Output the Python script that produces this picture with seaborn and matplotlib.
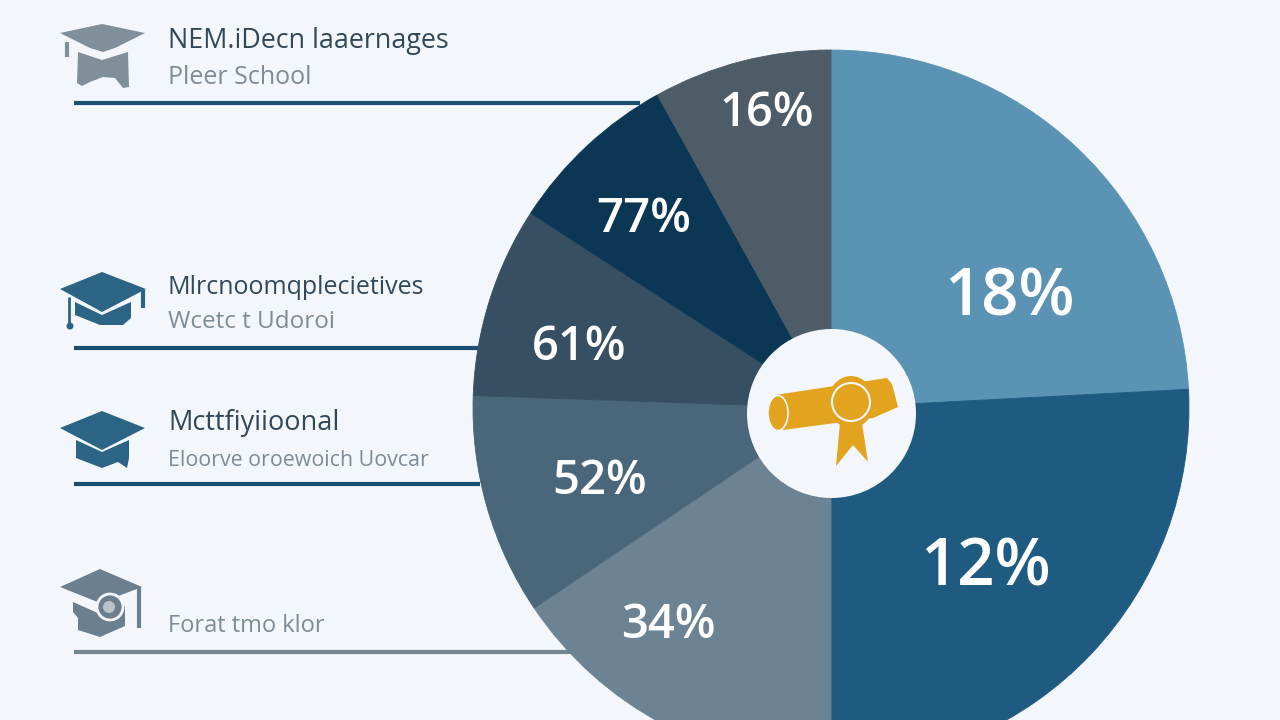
import matplotlib.pyplot as plt
import matplotlib.patches as mpatches
import seaborn as sns

# values as printed on the slices
pct_labels = ['18%', '12%', '34%', '52%', '61%', '77%', '16%']
# slice sizes (degrees, clockwise from the top)
slice_sizes = [87, 93, 56, 36, 31, 28, 29]
slice_colors = ['#5B93B5', '#1F5B80', '#6C8394', '#4A667B', '#374F62', '#0B3654', '#4E5C68']

row_titles = ['NEM.iDecn laaernages', 'Mlrcnoomqplecietives', 'Mcttfiyiioonal', '']
row_subtitles = ['Pleer School', 'Wcetc t Udoroi', 'Eloorve oroewoich Uovcar', 'Forat tmo klor']

BG = '#F3F7FB'
BLUE = '#2B6485'
GREY = '#7A8C99'
GOLD = '#E2A41F'

sns.set_theme(style='white')
plt.rcParams['font.family'] = ['Open Sans', 'DejaVu Sans']


def py(y):
    # picture pixels count from the top
    return 720 - y


def poly(ax, pts, color, z=5):
    ax.add_patch(mpatches.Polygon([(x, py(y)) for x, y in pts], closed=True, fc=color, ec='none', zorder=z))


def stroke(ax, xs, ys, color, lw=1.5, z=5):
    ax.plot(xs, [py(y) for y in ys], color=color, lw=lw, solid_capstyle='butt', zorder=z)


def icon_one(ax):
    poly(ax, [(60, 33), (102, 24), (145, 33), (115, 48), (103, 52), (90, 48)], '#818F9A')
    poly(ax, [(78, 52), (102, 60), (128, 52), (129, 87), (123, 88), (115, 78), (103, 77), (90, 82), (82, 86), (77, 83)], '#818F9A')
    stroke(ax, [67, 67], [42, 57], '#818F9A', 3)


def icon_two(ax):
    poly(ax, [(60, 289), (102, 272), (146, 289), (102, 312)], BLUE)
    poly(ax, [(75, 302), (102, 315), (131, 302), (131, 318), (123, 325), (100, 325), (75, 315)], BLUE)
    stroke(ax, [69, 69], [297, 325], BLUE, 2)
    stroke(ax, [143, 143], [290, 308], BLUE, 3)
    ax.add_patch(mpatches.Circle((70, py(326)), 3.5, fc=BLUE, ec='none', zorder=5))


def icon_three(ax):
    poly(ax, [(60, 428), (102, 411), (145, 428), (102, 450)], BLUE)
    poly(ax, [(76, 440), (102, 452), (129, 440), (129, 458), (127, 468), (118, 462), (102, 468), (76, 458)], BLUE)


def icon_four(ax):
    poly(ax, [(60, 587), (100, 569), (142, 587), (100, 603)], '#6C7F8E')
    poly(ax, [(73, 602), (100, 614), (125, 606), (125, 626), (100, 637), (78, 630), (78, 618), (73, 612)], '#6C7F8E')
    stroke(ax, [139, 139], [587, 628], '#6C7F8E', 3)
    ax.add_patch(mpatches.Circle((110, py(607)), 13, fc='#6C7F8E', ec=BG, lw=2, zorder=6))
    ax.add_patch(mpatches.Circle((109, py(607)), 6, fc='#B9C4CC', ec='none', zorder=7))


def draw_diploma(ax):
    poly(ax, [(775, 395), (887, 378), (892, 384), (898, 407), (873, 418), (783, 430)], GOLD, 12)
    ax.add_patch(mpatches.Ellipse((778, py(413)), 20, 35, fc=GOLD, ec=BG, lw=1.2, zorder=13))
    poly(ax, [(840, 423), (836, 466), (853, 445), (868, 462), (862, 423)], GOLD, 12)
    ax.add_patch(mpatches.Ellipse((851, py(402)), 46, 52, fc=GOLD, ec='none', zorder=13))
    ax.add_patch(mpatches.Circle((851, py(402)), 19, fc=GOLD, ec=BG, lw=1.5, zorder=14))


fig = plt.figure(figsize=(12.8, 7.2), dpi=100, facecolor=BG)
ax = fig.add_axes([0, 0, 1, 1])

palette = sns.color_palette(slice_colors)
wedges, _ = ax.pie(slice_sizes, colors=palette, startangle=90, counterclock=False,
                   center=(831, py(408)), radius=358, frame=True,
                   wedgeprops={'zorder': 3})
# hide the thin seams between slices
for w in wedges:
    w.set_edgecolor(w.get_facecolor())
    w.set_linewidth(0.6)
ax.set_xlim(0, 1280)
ax.set_ylim(0, 720)
ax.set_aspect('equal')
ax.axis('off')

# percentage labels
label_xy = [(1009, 299), (985, 569), (668, 626), (600, 482), (579, 347), (644, 220), (767, 114)]
label_size = [47, 47, 34, 34, 34, 34, 34]
for txt, (x, y), s in zip(pct_labels, label_xy, label_size):
    ax.text(x, py(y), txt, color='white', fontsize=s, fontweight='semibold',
            ha='center', va='center', zorder=8)

# centre badge
ax.add_patch(mpatches.Circle((831.5, py(413.5)), 84.5, fc=BG, ec='none', zorder=10))
draw_diploma(ax)

# rows on the left
rule_y = [103, 348, 484, 652]
rule_end = [640, 478, 480, 570]
rule_color = ['#1B4F72', '#1B4F72', '#1B4F72', '#75868F']
title_y = [41, 288, 423, None]
title_size = [19.4, 18, 19.5, 19]
sub_y = [77, 322, 460, 626]
sub_size = [18, 17.5, 15.4, 17]
for i in range(4):
    stroke(ax, [74, rule_end[i]], [rule_y[i], rule_y[i]], rule_color[i], 3, z=2)
    if title_y[i] is not None:
        ax.text(168, py(title_y[i]), row_titles[i], color='#33475A', fontsize=title_size[i],
                ha='left', va='center', zorder=5)
    ax.text(168, py(sub_y[i]), row_subtitles[i], color='#7E8C98', fontsize=sub_size[i],
            ha='left', va='center', zorder=5)

icon_one(ax)
icon_two(ax)
icon_three(ax)
icon_four(ax)

fig.savefig('out.png', dpi=100, facecolor=BG)
